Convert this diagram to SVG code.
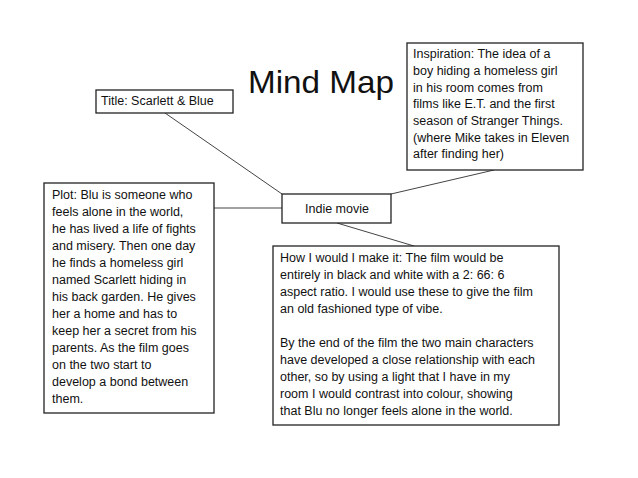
<svg xmlns="http://www.w3.org/2000/svg" width="638" height="478" viewBox="0 0 638 478">
<style>
.b{fill:#fff;stroke:#222;stroke-width:1.3}
text{font-family:"Liberation Sans",Arial,sans-serif;font-size:12.5px;fill:#111}
.c line{stroke:#444;stroke-width:1}
</style>
<rect width="638" height="478" fill="#fff"/>
<text x="248" y="93" style="font-size:32px" textLength="146" lengthAdjust="spacingAndGlyphs">Mind Map</text>
<g class="c" id="connectors">
<line x1="165" y1="113" x2="282" y2="194"/>
<line x1="214" y1="208" x2="282" y2="208"/>
<line x1="391" y1="194" x2="494" y2="170"/>
<line x1="337" y1="223" x2="414" y2="246"/>
</g>
<g id="title"><rect class="b" x="96" y="90" width="137" height="23"/><text x="101" y="105">Title: Scarlett &amp; Blue</text></g>
<g id="inspiration"><rect class="b" x="407" y="43" width="176" height="127"/>
<text x="413" y="58">Inspiration: The idea of a</text>
<text x="413" y="75">boy hiding a homeless girl</text>
<text x="413" y="92">in his room comes from</text>
<text x="413" y="108">films like E.T. and the first</text>
<text x="413" y="125">season of Stranger Things.</text>
<text x="413" y="142">(where Mike takes in Eleven</text>
<text x="413" y="158">after finding her)</text></g>
<g id="indie"><rect class="b" x="282" y="194" width="109" height="29"/><text x="337" y="213" text-anchor="middle">Indie movie</text></g>
<g id="plot"><rect class="b" x="44" y="183" width="170" height="230"/>
<text x="52" y="199">Plot: Blu is someone who</text>
<text x="52" y="216">feels alone in the world,</text>
<text x="52" y="233">he has lived a life of fights</text>
<text x="52" y="250">and misery. Then one day</text>
<text x="52" y="267">he finds a homeless girl</text>
<text x="52" y="284">named Scarlett hiding in</text>
<text x="52" y="301">his back garden. He gives</text>
<text x="52" y="318">her a home and has to</text>
<text x="52" y="335">keep her a secret from his</text>
<text x="52" y="352">parents. As the film goes</text>
<text x="52" y="369">on the two start to</text>
<text x="52" y="386">develop a bond between</text>
<text x="52" y="403">them.</text></g>
<g id="how"><rect class="b" x="273" y="246" width="286" height="179"/>
<text x="280" y="262">How I would I make it: The film would be</text>
<text x="280" y="279">entirely in black and white with a 2: 66: 6</text>
<text x="280" y="296">aspect ratio. I would use these to give the film</text>
<text x="280" y="313">an old fashioned type of vibe.</text>
<text x="280" y="347">By the end of the film the two main characters</text>
<text x="280" y="364">have developed a close relationship with each</text>
<text x="280" y="381">other, so by using a light that I have in my</text>
<text x="280" y="398">room I would contrast into colour, showing</text>
<text x="280" y="415">that Blu no longer feels alone in the world.</text></g>
</svg>
